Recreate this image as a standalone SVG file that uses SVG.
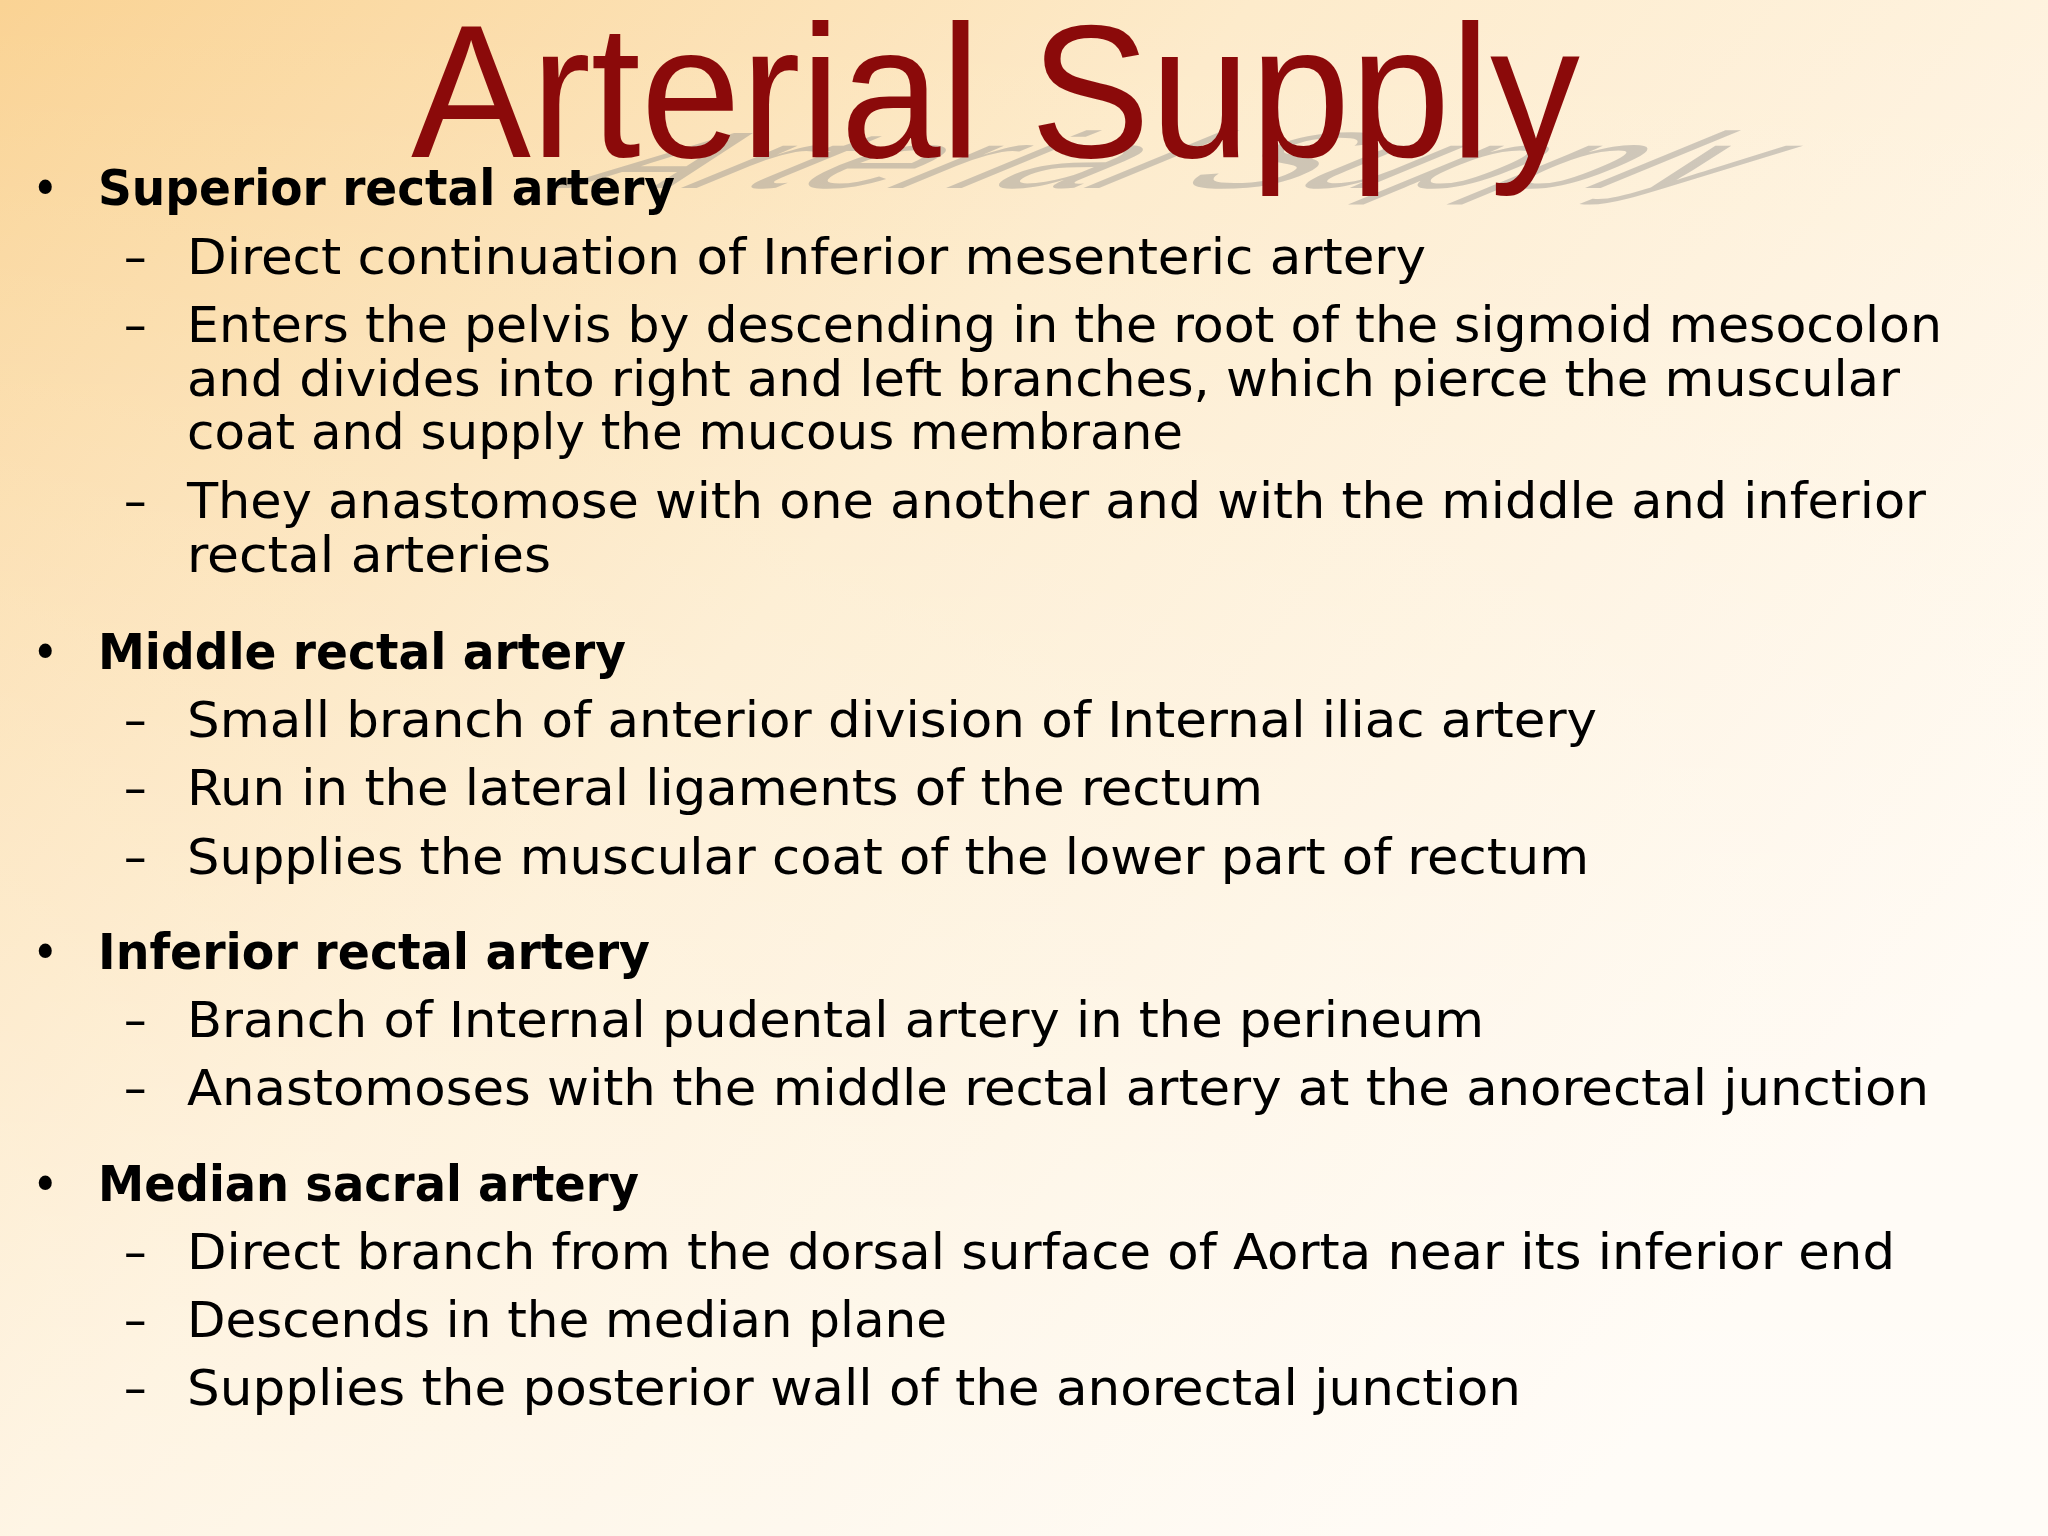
<svg xmlns="http://www.w3.org/2000/svg" width="2048" height="1536" viewBox="0 0 2048 1536">
<defs>
<linearGradient id="bg" x1="0" y1="0" x2="1" y2="0.6">
<stop offset="0" stop-color="#FAD394"/>
<stop offset="0.45" stop-color="#FDEBCB"/>
<stop offset="1" stop-color="#FFF9F0"/>
</linearGradient>
<linearGradient id="bg2" x1="0" y1="0" x2="0" y2="1">
<stop offset="0" stop-color="#FFFFFF" stop-opacity="0"/>
<stop offset="1" stop-color="#FFFFFF" stop-opacity="0.5"/>
</linearGradient>
<style>
.t{font-family:"DejaVu Sans Condensed","DejaVu Sans",Verdana,sans-serif;font-size:50px;fill:#000}
.h{font-weight:bold}
.title{font-family:"Liberation Sans",Arial,sans-serif;font-size:190px;fill:#8B0A0A}
</style>
</defs>
<rect width="2048" height="1536" fill="url(#bg)"/>
<rect width="2048" height="1536" fill="url(#bg2)"/>
<text x="0" y="0" class="title" style="fill:#8a8a8a;font-style:italic" opacity="0.4" transform="translate(560,188) scale(1,0.42) skewX(-40)" textLength="1150" lengthAdjust="spacingAndGlyphs">Arterial Supply</text>
<text x="411" y="157" class="title" textLength="1169" lengthAdjust="spacingAndGlyphs">Arterial Supply</text>
<g class="t">
<text x="32" y="205">•</text><text x="98" y="205" class="h" textLength="577" lengthAdjust="spacingAndGlyphs">Superior rectal artery</text>
<text x="124" y="274">–</text><text x="187" y="274" textLength="1239" lengthAdjust="spacingAndGlyphs">Direct continuation of Inferior mesenteric artery</text>
<text x="124" y="342">–</text><text x="187" y="342" textLength="1755" lengthAdjust="spacingAndGlyphs">Enters the pelvis by descending in the root of the sigmoid mesocolon</text>
<text x="187" y="396" textLength="1713" lengthAdjust="spacingAndGlyphs">and divides into right and left branches, which pierce the muscular</text>
<text x="187" y="449" textLength="996" lengthAdjust="spacingAndGlyphs">coat and supply the mucous membrane</text>
<text x="124" y="518">–</text><text x="187" y="518" textLength="1739" lengthAdjust="spacingAndGlyphs">They anastomose with one another and with the middle and inferior</text>
<text x="187" y="572" textLength="364" lengthAdjust="spacingAndGlyphs">rectal arteries</text>
<text x="32" y="669">•</text><text x="98" y="669" class="h" textLength="528" lengthAdjust="spacingAndGlyphs">Middle rectal artery</text>
<text x="124" y="737">–</text><text x="187" y="737" textLength="1410" lengthAdjust="spacingAndGlyphs">Small branch of anterior division of Internal iliac artery</text>
<text x="124" y="805">–</text><text x="187" y="805" textLength="1076" lengthAdjust="spacingAndGlyphs">Run in the lateral ligaments of the rectum</text>
<text x="124" y="874">–</text><text x="187" y="874" textLength="1402" lengthAdjust="spacingAndGlyphs">Supplies the muscular coat of the lower part of rectum</text>
<text x="32" y="969">•</text><text x="98" y="969" class="h" textLength="552" lengthAdjust="spacingAndGlyphs">Inferior rectal artery</text>
<text x="124" y="1037">–</text><text x="187" y="1037" textLength="1297" lengthAdjust="spacingAndGlyphs">Branch of Internal pudental artery in the perineum</text>
<text x="124" y="1105">–</text><text x="187" y="1105" textLength="1742" lengthAdjust="spacingAndGlyphs">Anastomoses with the middle rectal artery at the anorectal junction</text>
<text x="32" y="1201">•</text><text x="98" y="1201" class="h" textLength="541" lengthAdjust="spacingAndGlyphs">Median sacral artery</text>
<text x="124" y="1269">–</text><text x="187" y="1269" textLength="1708" lengthAdjust="spacingAndGlyphs">Direct branch from the dorsal surface of Aorta near its inferior end</text>
<text x="124" y="1337">–</text><text x="187" y="1337" textLength="760" lengthAdjust="spacingAndGlyphs">Descends in the median plane</text>
<text x="124" y="1405">–</text><text x="187" y="1405" textLength="1334" lengthAdjust="spacingAndGlyphs">Supplies the posterior wall of the anorectal junction</text>
</g>
</svg>
